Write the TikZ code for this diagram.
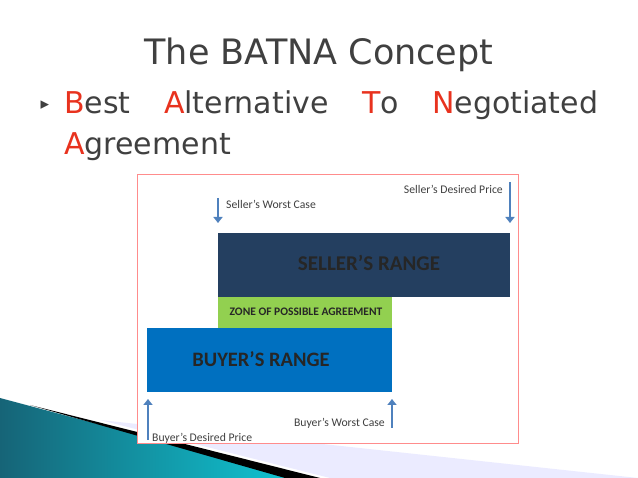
\documentclass[tikz,border=0pt]{standalone}
\usepackage{fontspec}
\setmainfont{DejaVu Sans}
\newfontfamily\calfnt{Carlito}
\usetikzlibrary{arrows.meta}
\definecolor{seller}{HTML}{243F60}
\definecolor{buyer}{HTML}{0070C0}
\definecolor{zone}{HTML}{92D050}
\definecolor{arr}{HTML}{4F81BD}
\definecolor{red1}{HTML}{E8321E}
\definecolor{txt}{HTML}{404040}
\definecolor{teal}{HTML}{1F8FAA}
\tikzset{
 barrow/.style={arr,line width=2.6pt,-{Triangle[width=9pt,length=6pt]}},
 lab/.style={font=\calfnt\fontsize{11.7}{11.7}\selectfont,text=txt,inner sep=1pt},
}
\begin{document}
\begin{tikzpicture}[x=1pt,y=-1pt]
\useasboundingbox (0,0) rectangle (638,478);
% decoration
\fill[blue!8] (100,420) -- (638,478) -- (330,478) -- cycle;
\shade[left color=teal!70!black,right color=cyan!50!teal] (0,398) -- (300,478) -- (0,478) -- cycle;
\fill[black] (30,405) -- (320,478) -- (285,478) -- cycle;
% title
\node[font=\fontsize{35}{35}\selectfont,text=txt] (title) at (319,55) {The BATNA Concept};
\node[font=\fontsize{17}{17}\selectfont,text=txt] (bul) at (45,105) {\char"25B8};
\node[font=\fontsize{30}{30}\selectfont,text=txt,anchor=west,inner sep=0] (l1) at (64,105)
 {\makebox[534pt][s]{\textcolor{red1}{B}est\hfill\textcolor{red1}{A}lternative\hfill\textcolor{red1}{T}o\hfill\textcolor{red1}{N}egotiated}};
\node[font=\fontsize{30}{30}\selectfont,text=txt,anchor=west,inner sep=0] (l2) at (64,147) {\textcolor{red1}{A}greement};
% frame
\draw[red!45,line width=1pt,fill=white] (137,175) rectangle (518,444);
\fill[seller] (218,233) rectangle (510,297);
\fill[zone] (218,297) rectangle (392,328);
\fill[buyer] (147,328) rectangle (392,392);
\node[font=\calfnt\bfseries\fontsize{21}{21}\selectfont,text=black!85] (sr) at (369,263) {SELLER’S RANGE};
\node[font=\calfnt\bfseries\fontsize{11.5}{11.5}\selectfont,text=black!85] (zn) at (306,312) {ZONE OF POSSIBLE AGREEMENT};
\node[font=\calfnt\bfseries\fontsize{20.5}{20.5}\selectfont,text=black!85] (br) at (261,359) {BUYER’S RANGE};
% arrows
\coordinate (s1a) at (218,198); \coordinate (s1b) at (218,223);
\coordinate (s2a) at (510,182); \coordinate (s2b) at (510,223);
\coordinate (b1a) at (148,440); \coordinate (b1b) at (148,399);
\coordinate (b2a) at (392,428); \coordinate (b2b) at (392,399);
\draw[barrow] (s1a) -- (s1b);
\draw[barrow] (s2a) -- (s2b);
\draw[barrow] (b1a) -- (b1b);
\draw[barrow] (b2a) -- (b2b);
\node[lab,anchor=west] (t1) at (225,204) {Seller’s Worst Case};
\node[lab,anchor=east] (t2) at (504,189) {Seller’s Desired Price};
\node[lab,anchor=west] (t3) at (151,438) {Buyer’s Desired Price};
\node[lab,anchor=east] (t4) at (386,423) {Buyer’s Worst Case};
\end{tikzpicture}
\end{document}
